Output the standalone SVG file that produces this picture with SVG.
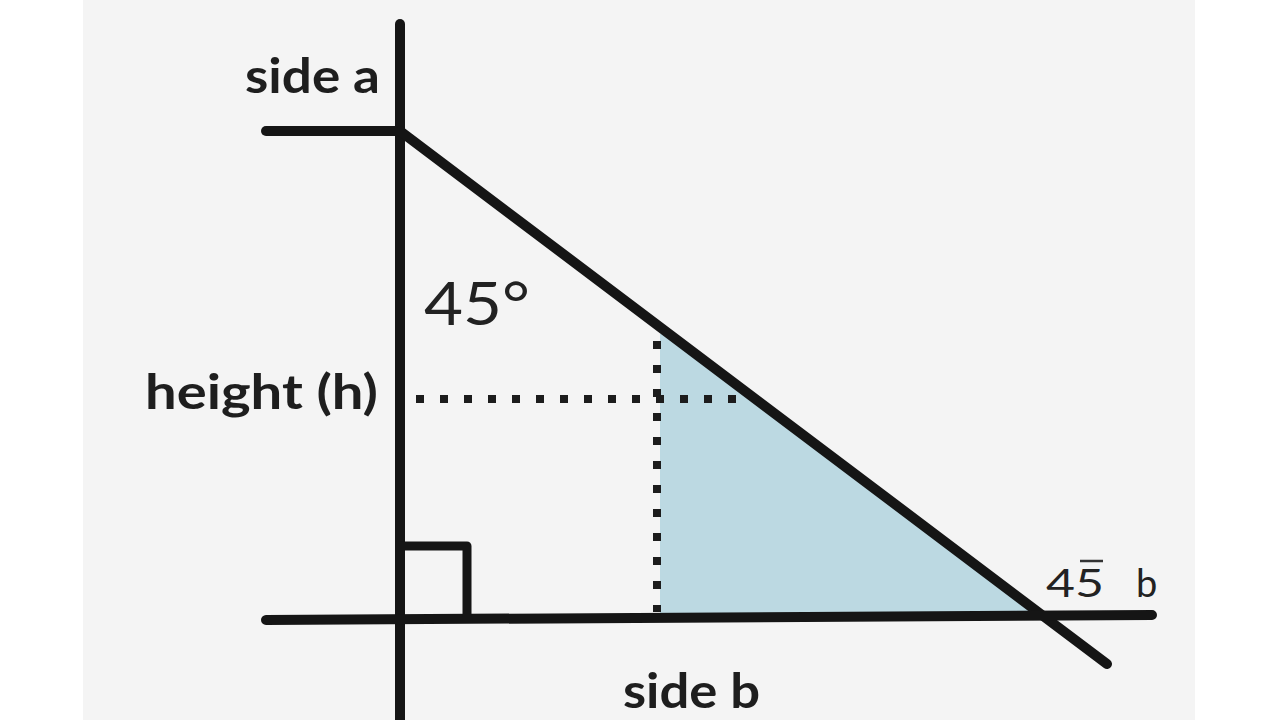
<svg xmlns="http://www.w3.org/2000/svg" width="1280" height="720" viewBox="0 0 1280 720">
  <style>
    .ln { stroke: #151515; stroke-width: 10; stroke-linecap: round; fill: none; }
    .dot { stroke: #1c1c1c; stroke-width: 8; stroke-dasharray: 8 16; fill: none; }
    .lbl { font-family: Lato, "Noto Sans", "Liberation Sans", sans-serif; font-weight: 700; font-size: 47px; fill: #1e1e1e; }
    .ang { font-family: Lato, "Noto Sans", "Liberation Sans", sans-serif; font-weight: 400; fill: #222; }
  </style>
  <rect x="0" y="0" width="1280" height="720" fill="#ffffff"/>
  <rect x="83" y="0" width="1112" height="720" fill="#f4f4f4"/>

  <g id="shade">
    <polygon points="660,334 666,334 1040,618 660,618" fill="#bcd9e2"/>
  </g>

  <g id="connectors">
    <line class="ln" x1="400" y1="24" x2="400" y2="730"/>
    <line class="ln" x1="266" y1="131" x2="400" y2="131"/>
    <line class="ln" x1="400" y1="131" x2="1107" y2="664"/>
    <line class="ln" x1="266" y1="620" x2="1152" y2="615"/>
    <polyline class="ln" style="stroke-width:9;stroke-linecap:butt;stroke-linejoin:round" points="400,546 467,546 467,617"/>
    <line class="dot" x1="657" y1="341" x2="657" y2="612"/>
    <line class="dot" x1="416" y1="399" x2="745" y2="399"/>
  </g>

  <g id="label-side-a">
    <text class="lbl" x="245" y="93" textLength="135" lengthAdjust="spacingAndGlyphs">side a</text>
  </g>
  <g id="label-height">
    <text class="lbl" x="145" y="409" textLength="233" lengthAdjust="spacingAndGlyphs">height (h)</text>
  </g>
  <g id="label-side-b">
    <text class="lbl" x="623" y="708" textLength="137" lengthAdjust="spacingAndGlyphs">side b</text>
  </g>
  <g id="label-45deg">
    <text class="ang" x="424" y="325" font-size="60" textLength="106" lengthAdjust="spacingAndGlyphs">45°</text>
  </g>
  <g id="label-45b">
    <text class="ang" x="1046" y="597" font-size="38" fill="#333" textLength="58" lengthAdjust="spacingAndGlyphs">45</text>
    <line x1="1080" y1="561" x2="1103" y2="561" stroke="#333" stroke-width="2.5"/>
    <text class="ang" x="1136" y="597" font-size="38" fill="#444">b</text>
  </g>
</svg>
